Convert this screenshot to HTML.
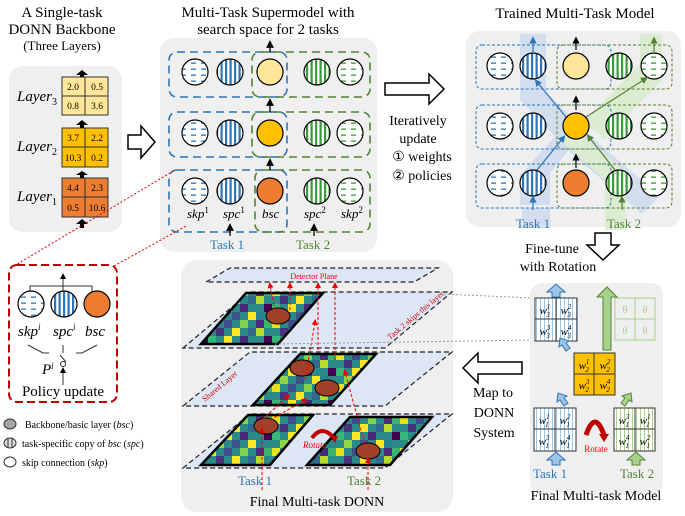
<!DOCTYPE html>
<html><head><meta charset="utf-8"><style>
html,body{margin:0;padding:0;background:#fff}
svg{display:block}
text{font-family:"Liberation Serif",serif}
</style></head><body>
<svg width="685" height="516" viewBox="0 0 685 516" xmlns="http://www.w3.org/2000/svg">
<defs>
<pattern id="vb" width="4.5" height="10" patternUnits="userSpaceOnUse"><rect width="4.5" height="10" fill="#fff"/><rect width="2.2" height="10" fill="#2e75b6"/></pattern>
<pattern id="vg" width="4.5" height="10" patternUnits="userSpaceOnUse"><rect width="4.5" height="10" fill="#fff"/><rect width="2.2" height="10" fill="#3a9a3a"/></pattern>
<pattern id="db" width="10" height="6" patternUnits="userSpaceOnUse"><rect width="10" height="6" fill="#fff"/><rect x="1" y="2.5" width="5" height="1.3" fill="#2e75b6"/></pattern>
<pattern id="dg" width="10" height="6" patternUnits="userSpaceOnUse"><rect width="10" height="6" fill="#fff"/><rect x="1" y="2.5" width="5" height="1.3" fill="#3a9a3a"/></pattern>
<pattern id="lb" width="4" height="10" patternUnits="userSpaceOnUse"><rect width="4" height="10" fill="#fff"/><rect width="1" height="10" fill="#9dc3e6"/></pattern>
<pattern id="lg" width="4" height="10" patternUnits="userSpaceOnUse"><rect width="4" height="10" fill="#fff"/><rect width="1" height="10" fill="#a9d18e"/></pattern>
<pattern id="chk" width="40" height="20" patternUnits="userSpaceOnUse" patternTransform="scale(1.6)">
<rect width="40" height="20" fill="#2a8a8a"/>
<rect x="0" y="0" width="5" height="5" fill="#4a2a7a"/><rect x="5" y="0" width="5" height="5" fill="#3cb46e"/><rect x="10" y="0" width="5" height="5" fill="#e6e31c"/><rect x="20" y="0" width="5" height="5" fill="#3d4e8a"/><rect x="30" y="0" width="5" height="5" fill="#7fd24e"/>
<rect x="0" y="5" width="5" height="5" fill="#b5de2b"/><rect x="15" y="5" width="5" height="5" fill="#46337e"/><rect x="25" y="5" width="5" height="5" fill="#fde725"/><rect x="35" y="5" width="5" height="5" fill="#31688e"/>
<rect x="5" y="10" width="5" height="5" fill="#440154"/><rect x="10" y="10" width="5" height="5" fill="#35b779"/><rect x="20" y="10" width="5" height="5" fill="#fde725"/><rect x="30" y="10" width="5" height="5" fill="#482878"/>
<rect x="0" y="15" width="5" height="5" fill="#26828e"/><rect x="15" y="15" width="5" height="5" fill="#90d743"/><rect x="25" y="15" width="5" height="5" fill="#3b528b"/><rect x="35" y="15" width="5" height="5" fill="#fde725"/>
</pattern>
<marker id="ak" markerWidth="6" markerHeight="6" refX="3" refY="3" orient="auto"><path d="M0,0L6,3L0,6z" fill="#000"/></marker>
<marker id="ab" markerWidth="6" markerHeight="6" refX="3" refY="3" orient="auto"><path d="M0,0L6,3L0,6z" fill="#2e75b6"/></marker>
<marker id="ag" markerWidth="6" markerHeight="6" refX="3" refY="3" orient="auto"><path d="M0,0L6,3L0,6z" fill="#548235"/></marker>
<marker id="ar" markerWidth="6" markerHeight="6" refX="3" refY="3" orient="auto"><path d="M0,0L6,3L0,6z" fill="#e00"/></marker>
</defs>

<text x="62" y="17" font-size="15" text-anchor="middle">A Single-task</text>
<text x="62" y="34" font-size="15" text-anchor="middle">DONN Backbone</text>
<text x="62" y="50" font-size="13" text-anchor="middle">(Three Layers)</text>
<text x="268" y="17" font-size="15" text-anchor="middle">Multi-Task Supermodel with</text>
<text x="268" y="34" font-size="15" text-anchor="middle">search space for 2 tasks</text>
<text x="575" y="18" font-size="15" text-anchor="middle">Trained Multi-Task Model</text>

<rect x="9" y="66" width="113" height="166" rx="14" fill="#efefef"/>
<g font-size="9.5" font-family="Liberation Serif" text-anchor="middle">
<rect x="62" y="77" width="46" height="38" fill="#ffe699" stroke="#333"/><line x1="85" y1="77" x2="85" y2="115" stroke="#333"/><line x1="62" y1="96" x2="108" y2="96" stroke="#333"/>
<text x="73" y="90">2.0</text><text x="97" y="90">0.5</text><text x="73" y="109">0.8</text><text x="97" y="109">3.6</text>
<rect x="62" y="128" width="46" height="39" fill="#ffc000" stroke="#333"/><line x1="85" y1="128" x2="85" y2="167" stroke="#333"/><line x1="62" y1="147" x2="108" y2="147" stroke="#333"/>
<text x="73" y="141">3.7</text><text x="97" y="141">2.2</text><text x="73" y="161">10.3</text><text x="97" y="161">0.2</text>
<rect x="62" y="178" width="46" height="39" fill="#ed7d31" stroke="#333"/><line x1="85" y1="178" x2="85" y2="217" stroke="#333"/><line x1="62" y1="197" x2="108" y2="197" stroke="#333"/>
<text x="73" y="191">4.4</text><text x="97" y="191">2.3</text><text x="73" y="211">0.5</text><text x="97" y="211">10.6</text>
</g>
<g fill="#000"><path d="M82,70L88,75H76z"/><rect x="80" y="74" width="4" height="3"/><path d="M82,120L88,125H76z"/><rect x="80" y="124" width="4" height="4"/><path d="M82,171L88,175H76z"/><rect x="80" y="175" width="4" height="3"/><path d="M82,219L88,224H76z"/><rect x="80" y="224" width="4" height="4"/></g>
<g font-size="15" font-style="italic"><text x="17" y="101">Layer<tspan font-size="10" dy="4" font-style="normal">3</tspan></text><text x="17" y="151">Layer<tspan font-size="10" dy="4" font-style="normal">2</tspan></text><text x="17" y="201">Layer<tspan font-size="10" dy="4" font-style="normal">1</tspan></text></g>

<path d="M128,135h13v-9l14,16l-14,16v-9h-13z" fill="#fff" stroke="#000" stroke-width="1.5"/>
<path d="M385,83h44v-9l15,15l-15,15v-9h-44z" fill="#fff" stroke="#000" stroke-width="1.5"/>
<path d="M595,233h16v12h8l-16,15l-16,-15h8z" fill="#fff" stroke="#000" stroke-width="1.5"/>
<path d="M522,362h-44v-9l-15,15l15,15v-9h44z" fill="#fff" stroke="#000" stroke-width="1.5"/>

<rect x="160" y="38" width="217" height="214" rx="14" fill="#efefef"/>
<g fill="none" stroke-dasharray="8,5" stroke-width="1.6">
<rect x="169" y="52" width="118" height="45" rx="8" stroke="#2e75b6"/><rect x="252" y="52" width="118" height="45" rx="8" stroke="#548235"/>
<rect x="169" y="112" width="118" height="45" rx="8" stroke="#2e75b6"/><rect x="252" y="112" width="118" height="45" rx="8" stroke="#548235"/>
<rect x="169" y="170" width="118" height="62" rx="8" stroke="#2e75b6"/><rect x="255" y="170" width="115" height="62" rx="8" stroke="#548235"/>
</g>
<g stroke="#000" stroke-width="1.2">
<circle cx="195" cy="72" r="13" fill="url(#db)"/><circle cx="230" cy="72" r="13" fill="url(#vb)"/><circle cx="270" cy="72" r="13" fill="#ffe699"/><circle cx="317" cy="72" r="13" fill="url(#vg)"/><circle cx="350" cy="72" r="13" fill="url(#dg)"/>
<circle cx="195" cy="133" r="13" fill="url(#db)"/><circle cx="230" cy="133" r="13" fill="url(#vb)"/><circle cx="270" cy="133" r="13" fill="#ffc000"/><circle cx="317" cy="133" r="13" fill="url(#vg)"/><circle cx="350" cy="133" r="13" fill="url(#dg)"/>
<circle cx="195" cy="191" r="13" fill="url(#db)"/><circle cx="230" cy="191" r="13" fill="url(#vb)"/><circle cx="270" cy="191" r="13" fill="#ed7d31"/><circle cx="317" cy="191" r="13" fill="url(#vg)"/><circle cx="350" cy="191" r="13" fill="url(#dg)"/>
</g>
<g stroke="#000" stroke-width="1.3" marker-end="url(#ak)"><line x1="270" y1="52" x2="270" y2="44"/><line x1="270" y1="112" x2="270" y2="102"/><line x1="270" y1="170" x2="270" y2="162"/><line x1="230" y1="236" x2="230" y2="227"/><line x1="314" y1="236" x2="314" y2="227"/></g>
<g font-size="13" font-style="italic"><text x="187" y="218">skp<tspan font-size="9" dy="-5" font-style="normal">1</tspan></text><text x="223" y="218">spc<tspan font-size="9" dy="-5" font-style="normal">1</tspan></text><text x="262" y="218">bsc</text><text x="304" y="218">spc<tspan font-size="9" dy="-5" font-style="normal">2</tspan></text><text x="341" y="218">skp<tspan font-size="9" dy="-5" font-style="normal">2</tspan></text></g>
<text x="210" y="249" font-size="13" fill="#2e75b6">Task 1</text><text x="296" y="249" font-size="13" fill="#548235">Task 2</text>

<g font-size="14" text-anchor="middle"><text x="418" y="125">Iteratively</text><text x="418" y="143">update</text><text x="422" y="161">① weights</text><text x="422" y="180">② policies</text></g>

<rect x="466" y="31" width="215" height="196" rx="14" fill="#efefef"/>
<g opacity="0.75">
<path d="M520,34h26v58l44,44l70,60l-18,18l-72,-62l-50,-52z" fill="#c9d8f0"/>
<path d="M520,205v-30l36,-40l14,14l-20,24v32z" fill="#c9d8f0"/>
<path d="M522,208h28v20h-28z" fill="#c9d8f0"/>
<path d="M640,34h22v46l-58,60l-6,-8l-16,-8l58,-60z" fill="#d5ebc8"/>
<path d="M605,230v-50l-45,-40l12,-12l54,44v58z" fill="#d5ebc8"/>
</g>
<g fill="none" stroke-dasharray="3,2" stroke-width="1">
<rect x="476" y="45" width="135" height="44" rx="6" stroke="#2e75b6"/><rect x="557" y="45" width="115" height="44" rx="6" stroke="#548235"/>
<rect x="476" y="105" width="135" height="44" rx="6" stroke="#2e75b6"/><rect x="557" y="105" width="115" height="44" rx="6" stroke="#548235"/>
<rect x="476" y="164" width="135" height="44" rx="6" stroke="#2e75b6"/><rect x="557" y="164" width="115" height="44" rx="6" stroke="#548235"/>
</g>
<g stroke="#000" stroke-width="1.2">
<circle cx="500" cy="66" r="13" fill="url(#db)"/><circle cx="533" cy="66" r="13" fill="url(#vb)"/><circle cx="576" cy="66" r="13" fill="#ffe699"/><circle cx="619" cy="66" r="13" fill="url(#vg)"/><circle cx="654" cy="66" r="13" fill="url(#dg)"/>
<circle cx="500" cy="126" r="13" fill="url(#db)"/><circle cx="533" cy="126" r="13" fill="url(#vb)"/><circle cx="576" cy="126" r="13" fill="#ffc000"/><circle cx="619" cy="126" r="13" fill="url(#vg)"/><circle cx="654" cy="126" r="13" fill="url(#dg)"/>
<circle cx="500" cy="183" r="13" fill="url(#db)"/><circle cx="533" cy="183" r="13" fill="url(#vb)"/><circle cx="576" cy="183" r="13" fill="#ed7d31"/><circle cx="619" cy="183" r="13" fill="url(#vg)"/><circle cx="654" cy="183" r="13" fill="url(#dg)"/>
</g>
<g stroke-width="1.2">
<line x1="533" y1="53" x2="533" y2="40" stroke="#2e75b6" marker-end="url(#ab)"/><line x1="566" y1="117" x2="537" y2="82" stroke="#2e75b6" marker-end="url(#ab)"/><line x1="537" y1="170" x2="563" y2="138" stroke="#2e75b6" marker-end="url(#ab)"/><line x1="533" y1="210" x2="533" y2="199" stroke="#2e75b6" marker-end="url(#ab)"/>
<line x1="654" y1="53" x2="654" y2="40" stroke="#548235" marker-end="url(#ag)"/><line x1="586" y1="117" x2="645" y2="79" stroke="#548235" marker-end="url(#ag)"/><line x1="615" y1="170" x2="589" y2="137" stroke="#548235" marker-end="url(#ag)"/><line x1="622" y1="210" x2="622" y2="199" stroke="#548235" marker-end="url(#ag)"/>
<line x1="576" y1="50" x2="576" y2="40" stroke="#000" marker-end="url(#ak)"/><line x1="576" y1="110" x2="576" y2="99" stroke="#000" marker-end="url(#ak)"/><line x1="576" y1="168" x2="576" y2="157" stroke="#000" marker-end="url(#ak)"/>
</g>
<text x="516" y="228" font-size="13" fill="#2e75b6">Task 1</text><text x="607" y="228" font-size="13" fill="#548235">Task 2</text>
<text x="552" y="253" font-size="14" text-anchor="middle">Fine-tune</text><text x="558" y="271" font-size="14" text-anchor="middle">with Rotation</text>

<line x1="14" y1="266" x2="175" y2="170" stroke="#d00" stroke-dasharray="2,2"/>
<line x1="114" y1="266" x2="186" y2="226" stroke="#d00" stroke-dasharray="2,2"/>
<rect x="9" y="265" width="108" height="137" rx="8" fill="#fff" stroke="#c00000" stroke-width="2" stroke-dasharray="8,4"/>
<g stroke="#333" fill="none"><path d="M30,294v-8h62v8"/><line x1="63" y1="294" x2="63" y2="276" marker-end="url(#ak)"/><path d="M28,345l15,8h6"/><path d="M63,345v8"/><path d="M97,345l-15,8h-6"/><line x1="60" y1="355" x2="66" y2="362"/><circle cx="63" cy="364" r="2.5" fill="#fff"/><line x1="63" y1="385" x2="63" y2="370" marker-end="url(#ak)"/></g>
<g stroke="#000" stroke-width="1.2"><circle cx="31" cy="304" r="13" fill="url(#db)"/><circle cx="64" cy="304" r="13" fill="url(#vb)"/><circle cx="97" cy="304" r="13" fill="#ed7d31"/></g>
<g font-size="15" font-style="italic"><text x="18" y="336">skp<tspan font-size="9" dy="-6">i</tspan></text><text x="53" y="336">spc<tspan font-size="9" dy="-6">i</tspan></text><text x="85" y="336">bsc</text><text x="42" y="374">P<tspan font-size="9" dy="-5">i</tspan></text></g>
<text x="63" y="396" font-size="15" text-anchor="middle">Policy update</text>

<ellipse cx="10" cy="424" rx="6" ry="5" fill="#a6a6a6" stroke="#333"/>
<ellipse cx="10" cy="443" rx="6" ry="5" fill="#ddd" stroke="#333"/><line x1="8" y1="438" x2="8" y2="448" stroke="#333"/><line x1="12" y1="438" x2="12" y2="448" stroke="#333"/>
<ellipse cx="10" cy="462" rx="6" ry="5" fill="#fff" stroke="#333"/>
<g font-size="10"><text x="25" y="428">Backbone/basic layer (<tspan font-style="italic">bsc</tspan>)</text><text x="22" y="447">task-specific copy of <tspan font-style="italic">bsc</tspan> (<tspan font-style="italic">spc</tspan>)</text><text x="22" y="466">skip connection (<tspan font-style="italic">skp</tspan>)</text></g>

<rect x="181" y="260" width="272" height="252" rx="16" fill="#efefef"/>
<g fill="#dde6f4" stroke="#222" stroke-dasharray="5,3" stroke-width="1.2">
<path d="M206,282L230,268H438L414,282Z"/>
<path d="M183,348L250,292H452L385,348Z"/>
<path d="M183,406L250,352H452L385,406Z"/>
<path d="M183,468L250,414H452L385,468Z"/>
</g>
<text x="314" y="279" font-size="8" fill="#e00" text-anchor="middle">Detector Plane</text>
<text x="0" y="0" font-size="8" fill="#c00" transform="translate(390,340) rotate(-40)">Task 2 skips this layer</text>
<text x="0" y="0" font-size="8" fill="#c00" transform="translate(205,402) rotate(-40)">Shared Layer</text>
<g stroke="#000" stroke-width="2.5">
<path d="M201,344L246,293H323L278,344Z" fill="url(#chk)"/>
<path d="M253,405L300,354H376L330,405Z" fill="url(#chk)"/>
<path d="M201,465L248,415H313L270,465Z" fill="url(#chk)"/>
<path d="M307,465L350,417H432L390,465Z" fill="url(#chk)"/>
</g>
<g fill="#a0412b" stroke="#000" stroke-width="1"><ellipse cx="278" cy="316" rx="12" ry="8"/><ellipse cx="302" cy="368" rx="12" ry="8"/><ellipse cx="327" cy="388" rx="12" ry="8"/><ellipse cx="266" cy="426" rx="12" ry="8"/><ellipse cx="368" cy="451" rx="12" ry="8"/></g>
<g stroke="#e00" stroke-dasharray="3,2" fill="none" stroke-width="1" marker-end="url(#ar)">
<line x1="262" y1="490" x2="262" y2="430"/><line x1="262" y1="420" x2="288" y2="396"/><line x1="305" y1="380" x2="315" y2="322"/><line x1="275" y1="310" x2="270" y2="285"/><line x1="290" y1="310" x2="290" y2="285"/>
<line x1="368" y1="490" x2="368" y2="460"/><line x1="365" y1="445" x2="345" y2="372"/><line x1="335" y1="360" x2="335" y2="285"/><line x1="318" y1="350" x2="318" y2="285"/><line x1="270" y1="420" x2="305" y2="400"/>
</g>
<path d="M312,438q10,-14 22,0" stroke="#c00000" stroke-width="4" fill="none"/><path d="M330,436l8,0l-3,7z" fill="#c00000"/>
<text x="303" y="448" font-size="9" fill="#e00" font-style="italic">Rotate</text>
<text x="238" y="485" font-size="13" fill="#2e75b6">Task 1</text><text x="347" y="485" font-size="13" fill="#548235">Task 2</text>
<text x="317" y="506" font-size="14" text-anchor="middle">Final Multi-task DONN</text>

<line x1="440" y1="294" x2="535" y2="298" stroke="#999" stroke-dasharray="2,2"/>
<line x1="275" y1="344" x2="535" y2="340" stroke="#999" stroke-dasharray="2,2"/>

<g font-size="14" text-anchor="middle"><text x="493" y="397">Map to</text><text x="494" y="417">DONN</text><text x="494" y="437">System</text></g>

<rect x="530" y="283" width="133" height="212" rx="12" fill="#efefef"/>
<g font-size="11" font-style="italic" text-anchor="middle">
<rect x="535" y="298" width="42" height="43" fill="url(#lb)" stroke="#333"/><line x1="556" y1="298" x2="556" y2="341" stroke="#333"/><line x1="535" y1="319" x2="577" y2="319" stroke="#333"/>
<text x="545" y="314">w<tspan font-size="7" dy="-5">1</tspan><tspan font-size="7" dx="-4" dy="8">3</tspan></text><text x="566" y="314">w<tspan font-size="7" dy="-5">2</tspan><tspan font-size="7" dx="-4" dy="8">3</tspan></text><text x="545" y="335">w<tspan font-size="7" dy="-5">3</tspan><tspan font-size="7" dx="-4" dy="8">3</tspan></text><text x="566" y="335">w<tspan font-size="7" dy="-5">4</tspan><tspan font-size="7" dx="-4" dy="8">3</tspan></text>
<rect x="574" y="353" width="41" height="42" fill="#ffc000" stroke="#333"/><line x1="594" y1="353" x2="594" y2="395" stroke="#333"/><line x1="574" y1="374" x2="615" y2="374" stroke="#333"/>
<text x="584" y="369">w<tspan font-size="7" dy="-5">1</tspan><tspan font-size="7" dx="-4" dy="8">2</tspan></text><text x="605" y="369">w<tspan font-size="7" dy="-5">2</tspan><tspan font-size="7" dx="-4" dy="8">2</tspan></text><text x="584" y="389">w<tspan font-size="7" dy="-5">3</tspan><tspan font-size="7" dx="-4" dy="8">2</tspan></text><text x="605" y="389">w<tspan font-size="7" dy="-5">4</tspan><tspan font-size="7" dx="-4" dy="8">2</tspan></text>
<rect x="534" y="408" width="42" height="43" fill="url(#lb)" stroke="#333"/><line x1="555" y1="408" x2="555" y2="451" stroke="#333"/><line x1="534" y1="429" x2="576" y2="429" stroke="#333"/>
<text x="544" y="424">w<tspan font-size="7" dy="-5">1</tspan><tspan font-size="7" dx="-4" dy="8">1</tspan></text><text x="565" y="424">w<tspan font-size="7" dy="-5">2</tspan><tspan font-size="7" dx="-4" dy="8">1</tspan></text><text x="544" y="445">w<tspan font-size="7" dy="-5">3</tspan><tspan font-size="7" dx="-4" dy="8">1</tspan></text><text x="565" y="445">w<tspan font-size="7" dy="-5">4</tspan><tspan font-size="7" dx="-4" dy="8">1</tspan></text>
<rect x="614" y="408" width="41" height="43" fill="url(#lg)" stroke="#333"/><line x1="635" y1="408" x2="635" y2="451" stroke="#333"/><line x1="614" y1="429" x2="655" y2="429" stroke="#333"/>
<text x="624" y="424">w<tspan font-size="7" dy="-5">3</tspan><tspan font-size="7" dx="-4" dy="8">1</tspan></text><text x="645" y="424">w<tspan font-size="7" dy="-5">1</tspan><tspan font-size="7" dx="-4" dy="8">1</tspan></text><text x="624" y="445">w<tspan font-size="7" dy="-5">4</tspan><tspan font-size="7" dx="-4" dy="8">1</tspan></text><text x="645" y="445">w<tspan font-size="7" dy="-5">2</tspan><tspan font-size="7" dx="-4" dy="8">1</tspan></text>
</g>
<g stroke="#a9d18e" fill="none"><rect x="615" y="298" width="40" height="42"/><line x1="635" y1="298" x2="635" y2="340"/><line x1="615" y1="319" x2="655" y2="319"/></g>
<g font-size="10" fill="#a9d18e" text-anchor="middle"><text x="625" y="313">θ</text><text x="645" y="313">θ</text><text x="625" y="334">θ</text><text x="645" y="334">θ</text></g>
<path d="M603,350v-53h-6l10,-10l10,10h-6v53z" fill="#a9d18e" stroke="#548235"/>
<path d="M552,297v-5h-5l9,-8l9,8h-5v5z" fill="#9dc3e6" stroke="#2e75b6"/>
<path d="M552,465v-5h-5l9,-8l9,8h-5v5z" fill="#9dc3e6" stroke="#2e75b6"/>
<path d="M632,465v-5h-5l9,-8l9,8h-5v5z" fill="#a9d18e" stroke="#548235"/>
<path d="M566,351l-4,-6l-3,2l1,-9l9,3l-3,2l4,5z" fill="#9dc3e6" stroke="#2e75b6"/>
<path d="M564,406l-4,-6l-3,2l1,-9l9,3l-3,2l4,5z" fill="#9dc3e6" stroke="#2e75b6"/>
<path d="M625,406l4,-6l3,2l-1,-9l-9,3l3,2l-4,5z" fill="#a9d18e" stroke="#548235"/>
<path d="M586,435q9,-26 18,0" stroke="#c00000" stroke-width="5" fill="none"/><path d="M599,434l10,0l-5,8z" fill="#c00000"/>
<text x="596" y="452" font-size="9" fill="#e00" text-anchor="middle">Rotate</text>
<text x="533" y="478" font-size="13" fill="#2e75b6">Task 1</text><text x="620" y="478" font-size="13" fill="#548235">Task 2</text>
<text x="596" y="500" font-size="14" text-anchor="middle">Final Multi-task Model</text>
</svg>
</body></html>
